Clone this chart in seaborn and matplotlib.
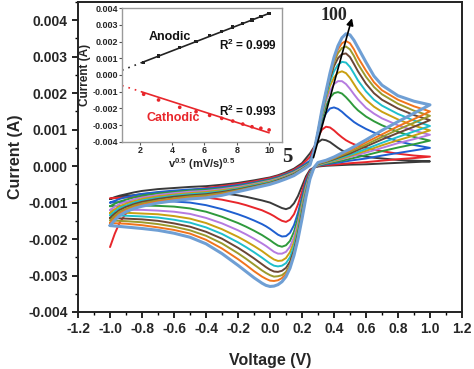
import numpy as np
import pandas as pd
import matplotlib
matplotlib.use("Agg")
import matplotlib.pyplot as plt
import seaborn as sns
from matplotlib.ticker import MultipleLocator, FormatStrFormatter

# ---------------- data (currents in mA, converted to A below) ----------------
scan_rates = [5, 10, 20, 30, 40, 50, 60, 70, 80, 90, 100]   # mV/s
colors = ["#3a3a3a", "#e8262b", "#1f5fd0", "#2f9a3c", "#b57be0", "#c9a012",
          "#1fbfcc", "#6a4636", "#9b9a2c", "#f0741c", "#6f9fd4"]

v_forward = [-1.0, -0.97, -0.94, -0.9, -0.85, -0.8, -0.7, -0.6, -0.5, -0.4, -0.3, -0.2, -0.1,
             0.0, 0.05, 0.1, 0.15, 0.2, 0.25, 0.275, 0.3, 0.325, 0.35, 0.375, 0.4, 0.425,
             0.45, 0.475, 0.5, 0.525, 0.55, 0.6, 0.65, 0.7, 0.8, 0.9, 1.0]
v_reverse = [1.0, 0.9, 0.8, 0.7, 0.6, 0.5, 0.45, 0.4, 0.35, 0.3, 0.275, 0.25, 0.225, 0.2,
             0.175, 0.15, 0.125, 0.1, 0.075, 0.05, 0.025, 0.0, -0.025, -0.05, -0.1, -0.15,
             -0.2, -0.3, -0.4, -0.5, -0.6, -0.7, -0.8, -0.9, -1.0]

i_forward_5 = [-0.90, -0.85, -0.81, -0.77, -0.72, -0.68, -0.63, -0.60, -0.57, -0.55, -0.51, -0.46, -0.39, -0.31, -0.25, -0.17, -0.07, 0.08, 0.35, 0.52, 0.65, 0.73, 0.71, 0.66, 0.58, 0.50, 0.43, 0.38, 0.34, 0.31, 0.29, 0.26, 0.23, 0.21, 0.17, 0.15, 0.13]
i_forward_10 = [-2.22, -1.85, -1.55, -1.30, -1.10, -0.97, -0.82, -0.74, -0.66, -0.60, -0.55, -0.49, -0.42, -0.33, -0.27, -0.20, -0.10, 0.04, 0.25, 0.50, 0.80, 1.00, 1.08, 1.06, 0.98, 0.88, 0.79, 0.71, 0.65, 0.60, 0.56, 0.50, 0.45, 0.41, 0.34, 0.29, 0.26]
i_forward_20 = [-1.00, -0.95, -0.90, -0.85, -0.80, -0.76, -0.71, -0.67, -0.64, -0.62, -0.58, -0.52, -0.45, -0.36, -0.30, -0.22, -0.13, 0.00, 0.15, 0.45, 0.85, 1.20, 1.45, 1.58, 1.61, 1.57, 1.49, 1.39, 1.30, 1.21, 1.14, 1.02, 0.92, 0.83, 0.68, 0.58, 0.50]
i_forward_30 = [-1.10, -1.03, -0.97, -0.92, -0.86, -0.81, -0.75, -0.71, -0.67, -0.65, -0.61, -0.55, -0.47, -0.38, -0.32, -0.24, -0.15, -0.03, 0.10, 0.42, 0.88, 1.30, 1.65, 1.88, 2.00, 2.03, 1.99, 1.89, 1.77, 1.64, 1.53, 1.36, 1.23, 1.12, 0.94, 0.80, 0.70]
i_forward_40 = [-1.20, -1.11, -1.04, -0.98, -0.91, -0.86, -0.79, -0.74, -0.70, -0.68, -0.63, -0.57, -0.49, -0.40, -0.34, -0.26, -0.17, -0.05, 0.08, 0.40, 0.90, 1.38, 1.78, 2.06, 2.25, 2.33, 2.33, 2.25, 2.12, 1.97, 1.83, 1.60, 1.44, 1.31, 1.12, 0.97, 0.86]
i_forward_50 = [-1.28, -1.18, -1.10, -1.03, -0.96, -0.90, -0.83, -0.78, -0.74, -0.71, -0.66, -0.60, -0.51, -0.42, -0.36, -0.28, -0.19, -0.07, 0.07, 0.40, 0.92, 1.42, 1.86, 2.20, 2.43, 2.56, 2.60, 2.55, 2.42, 2.25, 2.08, 1.82, 1.63, 1.49, 1.28, 1.11, 0.98]
i_forward_60 = [-1.35, -1.24, -1.15, -1.08, -1.00, -0.94, -0.87, -0.81, -0.77, -0.74, -0.69, -0.62, -0.53, -0.44, -0.38, -0.30, -0.21, -0.08, 0.06, 0.40, 0.93, 1.46, 1.93, 2.31, 2.60, 2.78, 2.86, 2.84, 2.72, 2.54, 2.35, 2.05, 1.82, 1.66, 1.43, 1.25, 1.10]
i_forward_70 = [-1.42, -1.30, -1.20, -1.12, -1.04, -0.98, -0.90, -0.84, -0.80, -0.77, -0.71, -0.64, -0.55, -0.46, -0.39, -0.31, -0.22, -0.09, 0.05, 0.40, 0.94, 1.50, 1.98, 2.40, 2.74, 2.96, 3.07, 3.09, 2.99, 2.80, 2.60, 2.26, 2.00, 1.82, 1.58, 1.40, 1.26]
i_forward_80 = [-1.49, -1.36, -1.25, -1.17, -1.08, -1.02, -0.94, -0.88, -0.83, -0.80, -0.74, -0.66, -0.57, -0.47, -0.41, -0.33, -0.24, -0.10, 0.04, 0.40, 0.95, 1.52, 2.02, 2.47, 2.84, 3.10, 3.24, 3.28, 3.20, 3.02, 2.80, 2.45, 2.17, 1.97, 1.71, 1.52, 1.38]
i_forward_90 = [-1.56, -1.42, -1.30, -1.21, -1.12, -1.06, -0.97, -0.91, -0.87, -0.84, -0.77, -0.68, -0.59, -0.49, -0.42, -0.34, -0.25, -0.11, 0.04, 0.40, 0.95, 1.54, 2.04, 2.51, 2.91, 3.20, 3.37, 3.43, 3.37, 3.20, 2.98, 2.62, 2.30, 2.08, 1.82, 1.64, 1.50]
i_forward_100 = [-1.63, -1.48, -1.35, -1.25, -1.16, -1.10, -1.01, -0.95, -0.90, -0.87, -0.80, -0.70, -0.60, -0.50, -0.43, -0.35, -0.26, -0.12, 0.03, 0.40, 0.95, 1.55, 2.05, 2.55, 2.98, 3.30, 3.52, 3.63, 3.60, 3.45, 3.25, 2.85, 2.47, 2.22, 1.93, 1.78, 1.68]

i_reverse_5 = [0.13, 0.11, 0.09, 0.07, 0.05, 0.04, 0.03, 0.02, 0.01, -0.01, -0.04, -0.10, -0.28, -0.55, -0.82, -1.02, -1.14, -1.18, -1.15, -1.10, -1.05, -1.00, -0.97, -0.94, -0.89, -0.84, -0.80, -0.74, -0.70, -0.69, -0.70, -0.73, -0.77, -0.82, -0.90]
i_reverse_10 = [0.26, 0.22, 0.19, 0.15, 0.11, 0.08, 0.06, 0.04, 0.03, 0.00, -0.04, -0.13, -0.35, -0.70, -1.05, -1.32, -1.47, -1.53, -1.50, -1.44, -1.37, -1.31, -1.26, -1.21, -1.14, -1.07, -1.01, -0.92, -0.86, -0.83, -0.82, -0.83, -0.84, -0.86, -0.88]
i_reverse_20 = [0.50, 0.43, 0.36, 0.29, 0.21, 0.15, 0.11, 0.08, 0.05, 0.01, -0.04, -0.16, -0.42, -0.85, -1.28, -1.62, -1.83, -1.92, -1.93, -1.88, -1.80, -1.72, -1.65, -1.59, -1.49, -1.40, -1.32, -1.18, -1.07, -1.00, -0.97, -0.96, -0.97, -0.98, -1.00]
i_reverse_30 = [0.70, 0.60, 0.51, 0.41, 0.30, 0.20, 0.15, 0.11, 0.07, 0.02, -0.04, -0.19, -0.50, -0.95, -1.42, -1.80, -2.05, -2.17, -2.21, -2.18, -2.11, -2.03, -1.96, -1.89, -1.77, -1.66, -1.56, -1.39, -1.25, -1.16, -1.11, -1.09, -1.08, -1.09, -1.10]
i_reverse_40 = [0.86, 0.74, 0.63, 0.50, 0.37, 0.25, 0.19, 0.14, 0.09, 0.03, -0.04, -0.22, -0.57, -1.05, -1.55, -1.95, -2.21, -2.35, -2.40, -2.40, -2.35, -2.27, -2.19, -2.12, -1.99, -1.87, -1.76, -1.57, -1.42, -1.31, -1.25, -1.22, -1.20, -1.20, -1.20]
i_reverse_50 = [0.98, 0.84, 0.71, 0.57, 0.42, 0.28, 0.21, 0.15, 0.10, 0.04, -0.04, -0.25, -0.63, -1.12, -1.65, -2.08, -2.36, -2.52, -2.59, -2.60, -2.56, -2.49, -2.41, -2.33, -2.19, -2.06, -1.94, -1.73, -1.56, -1.44, -1.37, -1.32, -1.30, -1.28, -1.28]
i_reverse_60 = [1.10, 0.95, 0.80, 0.64, 0.47, 0.31, 0.24, 0.17, 0.11, 0.05, -0.04, -0.27, -0.69, -1.20, -1.75, -2.20, -2.50, -2.66, -2.73, -2.75, -2.73, -2.67, -2.59, -2.51, -2.36, -2.22, -2.09, -1.86, -1.68, -1.55, -1.47, -1.41, -1.38, -1.36, -1.35]
i_reverse_70 = [1.26, 1.08, 0.91, 0.73, 0.54, 0.35, 0.27, 0.19, 0.12, 0.06, -0.04, -0.29, -0.74, -1.27, -1.84, -2.31, -2.62, -2.79, -2.87, -2.90, -2.89, -2.84, -2.77, -2.69, -2.53, -2.38, -2.24, -1.99, -1.80, -1.66, -1.57, -1.50, -1.46, -1.44, -1.42]
i_reverse_80 = [1.38, 1.19, 1.00, 0.80, 0.59, 0.39, 0.30, 0.21, 0.13, 0.07, -0.04, -0.31, -0.78, -1.33, -1.91, -2.39, -2.71, -2.90, -2.99, -3.02, -3.03, -2.99, -2.93, -2.86, -2.70, -2.54, -2.39, -2.12, -1.91, -1.76, -1.66, -1.59, -1.54, -1.51, -1.49]
i_reverse_90 = [1.50, 1.29, 1.09, 0.87, 0.65, 0.43, 0.33, 0.23, 0.14, 0.08, -0.04, -0.33, -0.82, -1.40, -1.96, -2.42, -2.76, -2.96, -3.07, -3.13, -3.15, -3.14, -3.09, -3.03, -2.88, -2.71, -2.55, -2.26, -2.02, -1.85, -1.75, -1.68, -1.62, -1.58, -1.56]
i_reverse_100 = [1.68, 1.45, 1.22, 0.98, 0.72, 0.47, 0.36, 0.25, 0.16, 0.10, -0.04, -0.35, -0.85, -1.45, -2.00, -2.45, -2.80, -3.03, -3.17, -3.25, -3.29, -3.30, -3.27, -3.21, -3.06, -2.89, -2.72, -2.40, -2.13, -1.95, -1.84, -1.76, -1.71, -1.67, -1.63]

forward_sets = [i_forward_5, i_forward_10, i_forward_20, i_forward_30, i_forward_40, i_forward_50,
                i_forward_60, i_forward_70, i_forward_80, i_forward_90, i_forward_100]
reverse_sets = [i_reverse_5, i_reverse_10, i_reverse_20, i_reverse_30, i_reverse_40, i_reverse_50,
                i_reverse_60, i_reverse_70, i_reverse_80, i_reverse_90, i_reverse_100]

# inset: peak currents vs sqrt(scan rate)
sqrt_rate = [2.24, 3.16, 4.47, 5.48, 6.32, 7.07, 7.75, 8.37, 8.94, 9.49, 10.0]
ipa_mA = [0.73, 1.13, 1.63, 2.01, 2.35, 2.61, 2.87, 3.09, 3.28, 3.48, 3.68]
ipc_mA = [-1.15, -1.49, -1.93, -2.19, -2.41, -2.59, -2.75, -2.93, -3.09, -3.18, -3.28]
anodic_fit = (0.373, -0.05)     # slope, intercept (mA)
cathodic_fit = (-0.31, -0.35)
r2_anodic = "0.999"
r2_cathodic = "0.993"

# ---------------- styling ----------------
sns.set_theme(style="ticks")
plt.rcParams["font.family"] = ["Liberation Sans", "DejaVu Sans"]
plt.rcParams["font.weight"] = "bold"
plt.rcParams["axes.unicode_minus"] = False
plt.rcParams["mathtext.fontset"] = "custom"
plt.rcParams["mathtext.rm"] = "Liberation Sans:bold"
plt.rcParams["mathtext.bf"] = "Liberation Sans:bold"
plt.rcParams["mathtext.it"] = "Liberation Sans:bold"

fig = plt.figure(figsize=(4.74, 3.69), dpi=100)
ax = fig.add_axes([0.1646, 0.1545, 0.810, 0.840])

for k, rate in enumerate(scan_rates):
    fwd, rev = forward_sets[k], reverse_sets[k]
    assert len(fwd) == len(v_forward) and len(rev) == len(v_reverse), rate
    v = np.array(v_forward + v_reverse)
    cur = np.array(fwd + rev) * 1e-3
    df = pd.DataFrame({"V": v, "I": cur})
    lw = 2.2 if k == len(scan_rates) - 1 else 1.4
    sns.lineplot(data=df, x="V", y="I", sort=False, estimator=None, ax=ax,
                 color=colors[k], linewidth=lw, solid_joinstyle="round")

ax.set_xlim(-1.2, 1.2)
ax.set_ylim(-0.004, 0.0045)
ax.xaxis.set_major_locator(MultipleLocator(0.2))
ax.xaxis.set_minor_locator(MultipleLocator(0.1))
ax.yaxis.set_major_locator(MultipleLocator(0.001))
ax.yaxis.set_minor_locator(MultipleLocator(0.0005))
ax.xaxis.set_major_formatter(FormatStrFormatter("%.1f"))
ax.yaxis.set_major_formatter(FormatStrFormatter("%.3f"))
ax.tick_params(which="major", direction="out", length=4, width=1.2, labelsize=10, color="black")
ax.tick_params(which="minor", direction="out", length=2.5, width=1.0, color="black")
for s in ax.spines.values():
    s.set_color("#222222")
    s.set_linewidth(1.4)
for lab in ax.get_xticklabels() + ax.get_yticklabels():
    lab.set_fontweight("bold")
ax.set_xlabel("Voltage (V)", fontsize=11.5, fontweight="bold", labelpad=12)
ax.set_ylabel("Current (A)", fontsize=11.5, fontweight="bold", labelpad=4)

# arrow and labels
ax.annotate("", xy=(0.517, 0.00413), xytext=(0.267, 0.00016),
            arrowprops=dict(arrowstyle="-|>", color="black", lw=1.2, mutation_scale=10))
ax.text(0.40, 0.00412, "100", fontsize=13, fontweight="bold", family="Liberation Serif",
        ha="center", va="center")
ax.text(0.11, 0.00025, "5", fontsize=15, fontweight="bold", family="Liberation Serif",
        ha="center", va="center")

# ---------------- inset ----------------
axin = fig.add_axes([0.2574, 0.6152, 0.3376, 0.3631])
axin.set_facecolor("white")
xs = np.array(sqrt_rate)
sns.scatterplot(x=xs, y=np.array(ipa_mA) * 1e-3, ax=axin, color="#222222", marker="s", s=6,
                edgecolor="none", zorder=3)
sns.scatterplot(x=xs, y=np.array(ipc_mA) * 1e-3, ax=axin, color="#e8262b", marker="o", s=7,
                edgecolor="none", zorder=3)
xl_solid = np.array([2.1, 10.0])
xl_dot = np.array([0.9, 2.1])
axin.plot(xl_solid, (anodic_fit[0] * xl_solid + anodic_fit[1]) * 1e-3, color="#222222", lw=1.2)
axin.plot(xl_dot, (anodic_fit[0] * xl_dot + anodic_fit[1]) * 1e-3, color="#222222", lw=1.2, ls=(0, (1, 3)))
axin.plot(xl_solid, (cathodic_fit[0] * xl_solid + cathodic_fit[1]) * 1e-3, color="#e8262b", lw=1.2)
axin.plot(xl_dot, (cathodic_fit[0] * xl_dot + cathodic_fit[1]) * 1e-3, color="#e8262b", lw=1.2, ls=(0, (1, 3)))

axin.set_xlim(0.9, 10.8)
axin.set_ylim(-0.004, 0.004)
axin.xaxis.set_major_locator(MultipleLocator(2))
axin.yaxis.set_major_locator(MultipleLocator(0.001))
axin.yaxis.set_major_formatter(FormatStrFormatter("%.3f"))
axin.tick_params(which="major", direction="out", length=2, width=0.8, labelsize=6.5, pad=1, color="#555555")
for s in axin.spines.values():
    s.set_color("#9a9a9a")
    s.set_linewidth(1.0)
for lab in axin.get_xticklabels() + axin.get_yticklabels():
    lab.set_fontweight("bold")
axin.set_xlabel("v$^{0.5}$ (mV/s)$^{0.5}$", fontsize=8, fontweight="bold", labelpad=1)
axin.set_ylabel("Current (A)", fontsize=8.5, fontweight="bold", labelpad=1)
axin.text(3.87, 0.00227, "Anodic", fontsize=9, fontweight="bold", color="#111111", ha="center", va="center")
axin.text(8.7, 0.00179, "R$^{2}$ = " + r2_anodic, fontsize=8.5, fontweight="bold", color="#111111", ha="center", va="center")
axin.text(4.06, -0.00257, "Cathodic", fontsize=9, fontweight="bold", color="#e8262b", ha="center", va="center")
axin.text(8.7, -0.00215, "R$^{2}$ = " + r2_cathodic, fontsize=8.5, fontweight="bold", color="#111111", ha="center", va="center")

fig.savefig("out.png", dpi=100)
